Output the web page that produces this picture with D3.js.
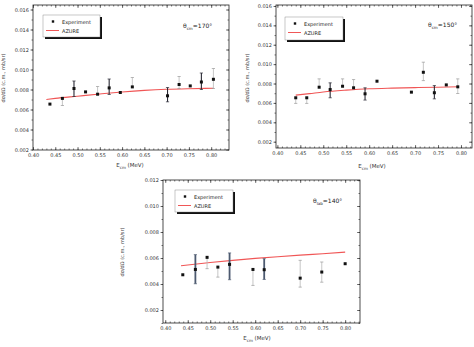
<!DOCTYPE html>
<html><head><meta charset="utf-8">
<script src="https://cdn.jsdelivr.net/npm/d3@7"></script>
<style>
html,body{margin:0;padding:0;background:#fff;}
svg{display:block;}
text{font-family:"DejaVu Sans",sans-serif;}
</style></head>
<body>
<svg id="chart" width="474" height="347"></svg>
<script>
// ---------- data ----------
const xTickValues = [0.40,0.45,0.50,0.55,0.60,0.65,0.70,0.75,0.80];
const yTickValues12 = [0.002,0.004,0.006,0.008,0.010,0.012,0.014,0.016];
const yTickValues3 = [0.002,0.004,0.006,0.008,0.010,0.012];

// panel 1 (theta_cm = 170)
const p1Energy = [0.438,0.466,0.492,0.518,0.545,0.571,0.596,0.623,0.702,0.728,0.753,0.778,0.805];
const p1Sigma  = [0.00654,0.00711,0.0081,0.00776,0.00753,0.00816,0.0077,0.00826,0.00737,0.0085,0.00836,0.00875,0.00902];
const p1ErrLo  = [null,0.0064,0.0073,null,0.00753,0.0075,null,0.00826,0.00677,0.0081,null,0.0080,0.0081];
const p1ErrHi  = [null,0.00711,0.00885,null,0.0083,0.00905,null,0.0092,0.0082,0.0093,null,0.00965,0.0101];
const p1ErrKind= [null,"gray","dark",null,"gray","dark",null,"gray","dark","gray",null,"dark","gray"];
const p1FitE = [0.43,0.45,0.50,0.55,0.60,0.65,0.70,0.75,0.805];
const p1FitS = [0.0070,0.00711,0.00733,0.00755,0.00775,0.00791,0.00802,0.00808,0.00812];

// panel 2 (theta_cm = 150)
const p2Energy = [0.44,0.464,0.491,0.515,0.542,0.566,0.591,0.617,0.692,0.718,0.742,0.768,0.793];
const p2Sigma  = [0.00653,0.00653,0.00762,0.00738,0.00772,0.00756,0.00694,0.00824,0.00711,0.00916,0.00705,0.00786,0.00766];
const p2ErrLo  = [0.00595,0.00595,0.00762,0.00653,0.00772,0.00756,0.00629,null,null,0.0083,0.00642,null,0.00697];
const p2ErrHi  = [0.00653,0.00653,0.00848,0.00807,0.00848,0.00841,0.00756,null,null,0.0102,0.00779,null,0.00848];
const p2ErrKind= ["gray","gray","gray","dark","gray","gray","dark",null,null,"gray","dark",null,"gray"];
const p2FitE = [0.44,0.47,0.50,0.55,0.60,0.65,0.70,0.75,0.795];
const p2FitS = [0.0068,0.00696,0.00713,0.00732,0.00746,0.00753,0.00758,0.00762,0.00767];

// panel 3 (theta_lab = 140)
const p3Energy = [0.439,0.467,0.493,0.517,0.543,0.595,0.62,0.70,0.748,0.80];
const p3Sigma  = [0.00471,0.00512,0.00605,0.0053,0.00551,0.00512,0.0051,0.00445,0.00492,0.00556];
const p3ErrLo  = [null,0.00402,0.00518,0.00453,0.00433,0.00389,0.00435,0.00376,0.00414,null];
const p3ErrHi  = [null,0.00626,0.00605,0.0053,0.00639,0.00512,0.00595,0.00582,0.00569,null];
const p3ErrKind= [null,"blue","gray","gray","blue","gray","blue","gray","gray",null];
const p3FitE = [0.435,0.50,0.55,0.60,0.65,0.70,0.75,0.80];
const p3FitS = [0.0054,0.00565,0.00582,0.00597,0.0061,0.00622,0.00633,0.00645];

const legendLabels = ["Experiment","AZURE"];
const angleLabels = [["θ","cm","=170°"],["θ","cm","=150°"],["θ","lab","=140°"]];
const yTitle = "dσ/dΩ (c.m., mb/sr)";
const xTitle = ["E","cm"," (MeV)"];

// ---------- drawing ----------
const svg = d3.select("#chart");

const panels = [
  {x0:33,x1:229,y0:150,y1:5,xd:[0.40,0.84],yd:[0.00195,0.01645],yt:yTickValues12,
   E:p1Energy,S:p1Sigma,lo:p1ErrLo,hi:p1ErrHi,kind:p1ErrKind,fe:p1FitE,fs:p1FitS,
   leg:[43,15,57,22],ang:[183,28],xt:[130,167],ytx:5,yty:78,angle:angleLabels[0]},
  {x0:276,x1:472,y0:148,y1:5,xd:[0.397,0.824],yd:[0.00135,0.0161],yt:yTickValues12,
   E:p2Energy,S:p2Sigma,lo:p2ErrLo,hi:p2ErrHi,kind:p2ErrKind,fe:p2FitE,fs:p2FitS,
   leg:[285,17,58,23],ang:[428,27],xt:[372,168],ytx:249,yty:78,angle:angleLabels[1]},
  {x0:163,x1:360,y0:323,y1:180,xd:[0.395,0.833],yd:[0.001,0.012],yt:yTickValues3,
   E:p3Energy,S:p3Sigma,lo:p3ErrLo,hi:p3ErrHi,kind:p3ErrKind,fe:p3FitE,fs:p3FitS,
   leg:[175,190,58,22],ang:[313,203],xt:[257,340],ytx:124,yty:252,angle:angleLabels[2]}
];

const errColor = {dark:"#2a2a35", gray:"#b8b8b8", blue:"#4d5a70"};
const errWidth = {dark:1.1, gray:0.8, blue:1.8};

panels.forEach(p=>{
  const g = svg.append("g");
  const x = d3.scaleLinear().domain(p.xd).range([p.x0,p.x1]);
  const y = d3.scaleLinear().domain(p.yd).range([p.y0,p.y1]);
  const xMinor = d3.range(40,84).map(v=>v/100).filter(v=>v>=p.xd[0]&&v<=p.xd[1]);
  const yMinor = d3.range(1,17).map(v=>v/1000).filter(v=>v>=p.yd[0]&&v<=p.yd[1]);

  // minor ticks
  g.append("g").attr("transform",`translate(0,${p.y0})`)
    .call(d3.axisBottom(x).tickValues(xMinor).tickSize(-1.5).tickFormat(""));
  g.append("g").attr("transform",`translate(0,${p.y1})`)
    .call(d3.axisTop(x).tickValues(xMinor).tickSize(-1.5).tickFormat(""));
  g.append("g").attr("transform",`translate(${p.x0},0)`)
    .call(d3.axisLeft(y).tickValues(yMinor).tickSize(1.5).tickFormat(""));
  g.append("g").attr("transform",`translate(${p.x1},0)`)
    .call(d3.axisRight(y).tickValues(yMinor).tickSize(-1.5).tickFormat(""));
  // major ticks
  const xa = g.append("g").attr("transform",`translate(0,${p.y0})`)
    .call(d3.axisBottom(x).tickValues(xTickValues).tickSize(-3).tickPadding(3.5).tickFormat(d3.format(".2f")));
  g.append("g").attr("transform",`translate(0,${p.y1})`)
    .call(d3.axisTop(x).tickValues(xTickValues).tickSize(-3).tickFormat(""));
  const ya = g.append("g").attr("transform",`translate(${p.x0},0)`)
    .call(d3.axisLeft(y).tickValues(p.yt).tickSize(2.5).tickPadding(1.5).tickFormat(d3.format(".3f")));
  g.append("g").attr("transform",`translate(${p.x1},0)`)
    .call(d3.axisRight(y).tickValues(p.yt).tickSize(-3).tickFormat(""));
  g.selectAll(".domain").remove();
  g.selectAll(".tick line").attr("stroke","#222").attr("stroke-width",0.6);
  g.selectAll(".tick text").attr("font-size","5px").attr("fill","#333");

  // frame
  g.append("rect").attr("x",p.x0).attr("y",p.y1).attr("width",p.x1-p.x0).attr("height",p.y0-p.y1)
    .attr("fill","none").attr("stroke","#222").attr("stroke-width",0.8);

  // AZURE fit line
  const fit = p.fe.map((e,i)=>[e,p.fs[i]]);
  g.append("path").datum(fit)
    .attr("d",d3.line().x(d=>x(d[0])).y(d=>y(d[1])).curve(d3.curveMonotoneX))
    .attr("fill","none").attr("stroke","#ee4444").attr("stroke-width",1.1).attr("opacity",0.9);

  // error bars
  p.E.forEach((e,i)=>{
    if(p.kind[i]==null) return;
    const k = p.kind[i];
    g.append("line").attr("x1",x(e)).attr("x2",x(e)).attr("y1",y(p.lo[i])).attr("y2",y(p.hi[i]))
      .attr("stroke",errColor[k]).attr("stroke-width",errWidth[k]);
    [p.lo[i],p.hi[i]].forEach(v=>{
      if(v===p.S[i]) return;
      g.append("line").attr("x1",x(e)-1.6).attr("x2",x(e)+1.6).attr("y1",y(v)).attr("y2",y(v))
        .attr("stroke",k==="gray"?"#999":errColor[k]).attr("stroke-width",0.7);
    });
  });
  // points
  g.selectAll("rect.pt").data(p.E).join("rect").attr("class","pt")
    .attr("x",(d)=>x(d)-1.5).attr("y",(d,i)=>y(p.S[i])-1.5).attr("width",3).attr("height",3)
    .attr("fill","#111");

  // legend
  const [lx,ly,lw,lh] = p.leg;
  g.append("rect").attr("x",lx+2).attr("y",ly+2).attr("width",lw).attr("height",lh).attr("fill","#111");
  g.append("rect").attr("x",lx).attr("y",ly).attr("width",lw).attr("height",lh).attr("fill","#fff")
    .attr("stroke","#777").attr("stroke-width",0.4);
  g.append("rect").attr("x",lx+10-1.2).attr("y",ly+6.5-1.2).attr("width",2.4).attr("height",2.4).attr("fill","#111");
  g.append("text").attr("x",lx+19).attr("y",ly+8.5).attr("font-size","5px").attr("fill","#222")
    .attr("font-family","Liberation Serif,serif").text(legendLabels[0]);
  g.append("line").attr("x1",lx+3).attr("x2",lx+16).attr("y1",ly+15.5).attr("y2",ly+15.5)
    .attr("stroke","#ee4444").attr("stroke-width",0.9);
  g.append("text").attr("x",lx+19).attr("y",ly+17.5).attr("font-size","5px").attr("fill","#222")
    .attr("font-family","Liberation Serif,serif").text(legendLabels[1]);

  // angle label
  const at = g.append("text").attr("x",p.ang[0]).attr("y",p.ang[1]).attr("font-size","6px").attr("fill","#222")
    .attr("font-family","Liberation Serif,serif");
  at.append("tspan").text(p.angle[0]);
  at.append("tspan").attr("font-size","4px").attr("dy",1.5).text(p.angle[1]);
  at.append("tspan").attr("dy",-1.5).text(p.angle[2]);

  // axis titles
  const xtt = g.append("text").attr("x",p.xt[0]).attr("y",p.xt[1]).attr("text-anchor","middle")
    .attr("font-size","5.5px").attr("fill","#333").attr("font-family","Liberation Serif,serif");
  xtt.append("tspan").text(xTitle[0]);
  xtt.append("tspan").attr("font-size","4px").attr("dy",1.5).text(xTitle[1]);
  xtt.append("tspan").attr("dy",-1.5).text(xTitle[2]);
  g.append("text").attr("transform",`translate(${p.ytx},${p.yty}) rotate(-90)`).attr("text-anchor","middle")
    .attr("font-size","5px").attr("fill","#444").attr("font-family","Liberation Serif,serif").text(yTitle);
});
</script>
</body></html>
